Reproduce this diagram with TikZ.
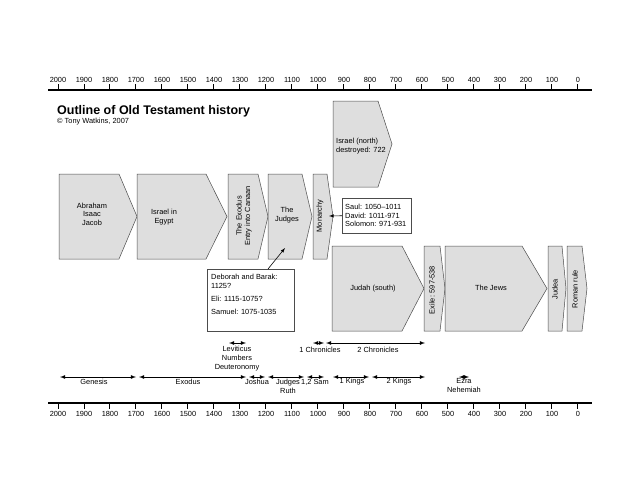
\documentclass[tikz,border=0pt]{standalone}
\usepackage{fontspec}
\setmainfont{Liberation Sans}
\begin{document}
\begin{tikzpicture}[x=1pt,y=-1pt,
  shp/.style={draw=black!70,fill=black!13,line width=0.5pt},
  lbl/.style={font=\fontsize{7.4}{8.4}\selectfont,align=center,inner sep=0pt},
  bk/.style={<->,>=latex,line width=0.8pt},
  ax/.style={line width=2pt},
  tk/.style={line width=1pt}]
\useasboundingbox (0,0) rectangle (638,493);
% axes
\draw[ax] (48,90) -- (592,90);
\draw[ax] (48,403) -- (592,403);
\foreach \y in {2000,1900,...,0}{
  \pgfmathsetmacro{\xx}{58+(2000-\y)*0.26}
  \draw[tk] (\xx,84) -- (\xx,90);
  \node[lbl] at (\xx,80) {\y};
  \draw[tk] (\xx,403) -- (\xx,409);
  \node[lbl] at (\xx,414) {\y};
}
\node[anchor=west,inner sep=0pt,font=\bfseries\fontsize{12.5}{14}\selectfont] (title) at (57,111) {Outline of Old Testament history};
\node[anchor=west,inner sep=0pt,font=\fontsize{7.4}{8}\selectfont] (copy) at (57,122) {© Tony Watkins, 2007};
% shapes: left, right body, tip, top, bottom
\newcommand{\pent}[6]{\draw[shp] (#1,#4) -- (#2,#4) -- (#3,{(#4+#5)/2}) -- (#2,#5) -- (#1,#5) -- cycle;
  \coordinate (#6) at (#3,{(#4+#5)/2});}
\pent{59}{119}{137}{174}{259}{abr}
\pent{137}{206}{227}{174}{259}{egy}
\pent{228}{258}{268}{174}{259}{exo}
\pent{268}{302}{312}{174}{259}{jud}
\pent{313}{327}{333}{174}{259}{mon}
\pent{333}{378}{392}{101}{187}{isr}
\pent{332}{402}{424}{246}{331}{jdh}
\pent{424}{440}{445}{246}{331}{exl}
\pent{445}{522}{547}{246}{331}{jws}
\pent{548}{562}{566}{246}{331}{jda}
\pent{567}{582}{587}{246}{331}{rom}
\node[lbl] (tabr) at (92,214) {Abraham\\Isaac\\Jacob};
\node[lbl] (tegy) at (164,217) {Israel in\\Egypt};
\node[lbl,rotate=90] (texo) at (244,216) {The Exodus\\Entry into Canaan};
\node[lbl] (tjud) at (287,215) {The\\Judges};
\node[lbl,rotate=90] (tmon) at (320,216) {Monarchy};
\node[lbl,align=left,anchor=west] (tisr) at (336,146) {Israel (north)\\destroyed: 722};
\node[lbl] (tjdh) at (373,289) {Judah (south)};
\node[lbl,rotate=90] (texl) at (432,290) {Exile: 597-538};
\node[lbl] (tjws) at (491,288) {The Jews};
\node[lbl,rotate=90] (tjda) at (555,289) {Judea};
\node[lbl,rotate=90] (trom) at (575,289) {Roman rule};
% boxes
\node[draw=black!70,fill=white,line width=0.5pt,minimum width=69pt,minimum height=35pt,anchor=north west,inner sep=0pt] (saul) at (342,198) {};
\node[lbl,align=left,anchor=west] (tsaul) at (345,215.5) {Saul: 1050–1011\\David: 1011-971\\Solomon: 971-931};
\coordinate (montip) at (329,216);
\draw[->,>=latex,line width=0.6pt] (saul.west) -- (montip);
\node[draw=black!70,fill=white,line width=0.5pt,minimum width=87pt,minimum height=62pt,anchor=north west,inner sep=0pt] (deb) at (207,269) {};
\node[lbl,align=left,anchor=north west,font=\fontsize{7.4}{9}\selectfont] (tdeb) at (211,274) {Deborah and Barak:\\1125?\\[4pt]Eli: 1115-1075?\\[4pt]Samuel: 1075-1035};
\coordinate (debtip) at (285,248);
\coordinate (debfoot) at (268,269);
\draw[->,>=latex,line width=0.6pt] (debfoot) -- (debtip);
% books
\draw[bk] (229,343) -- (246,343);
\node[lbl,align=center,font=\fontsize{7.4}{9}\selectfont,anchor=north] (lev) at (237,346) {Leviticus\\Numbers\\Deuteronomy};
\draw[bk] (313,343) -- (324,343);
\draw[bk] (326,343) -- (425,343);
\node[lbl] (chr1) at (320,350) {1 Chronicles};
\node[lbl] (chr2) at (378,350) {2 Chronicles};
\draw[bk] (60,377) -- (136,377);  \node[lbl] (gen) at (94,382) {Genesis};
\draw[bk] (139,377) -- (246,377); \node[lbl] (exd) at (188,382) {Exodus};
\draw[bk] (249,377) -- (265,377); \node[lbl] (jos) at (257,382) {Joshua};
\draw[bk] (268,377) -- (304,377); \node[lbl,font=\fontsize{7.4}{9}\selectfont,anchor=north] (jdg) at (288,378.5) {Judges\\Ruth};
\draw[bk] (307,377) -- (324,377); \node[lbl] (sam) at (315,382) {1,2 Sam};
\draw[bk] (333,377) -- (369,377); \node[lbl] (ki1) at (352,382) {1 Kings};
\draw[bk] (372,377) -- (425,377); \node[lbl] (ki2) at (399,382) {2 Kings};
\draw[bk] (459,377) -- (469,377); \node[lbl,font=\fontsize{7.4}{9}\selectfont,anchor=north] (ezr) at (464,378.5) {Ezra\\Nehemiah};
\end{tikzpicture}
\end{document}
